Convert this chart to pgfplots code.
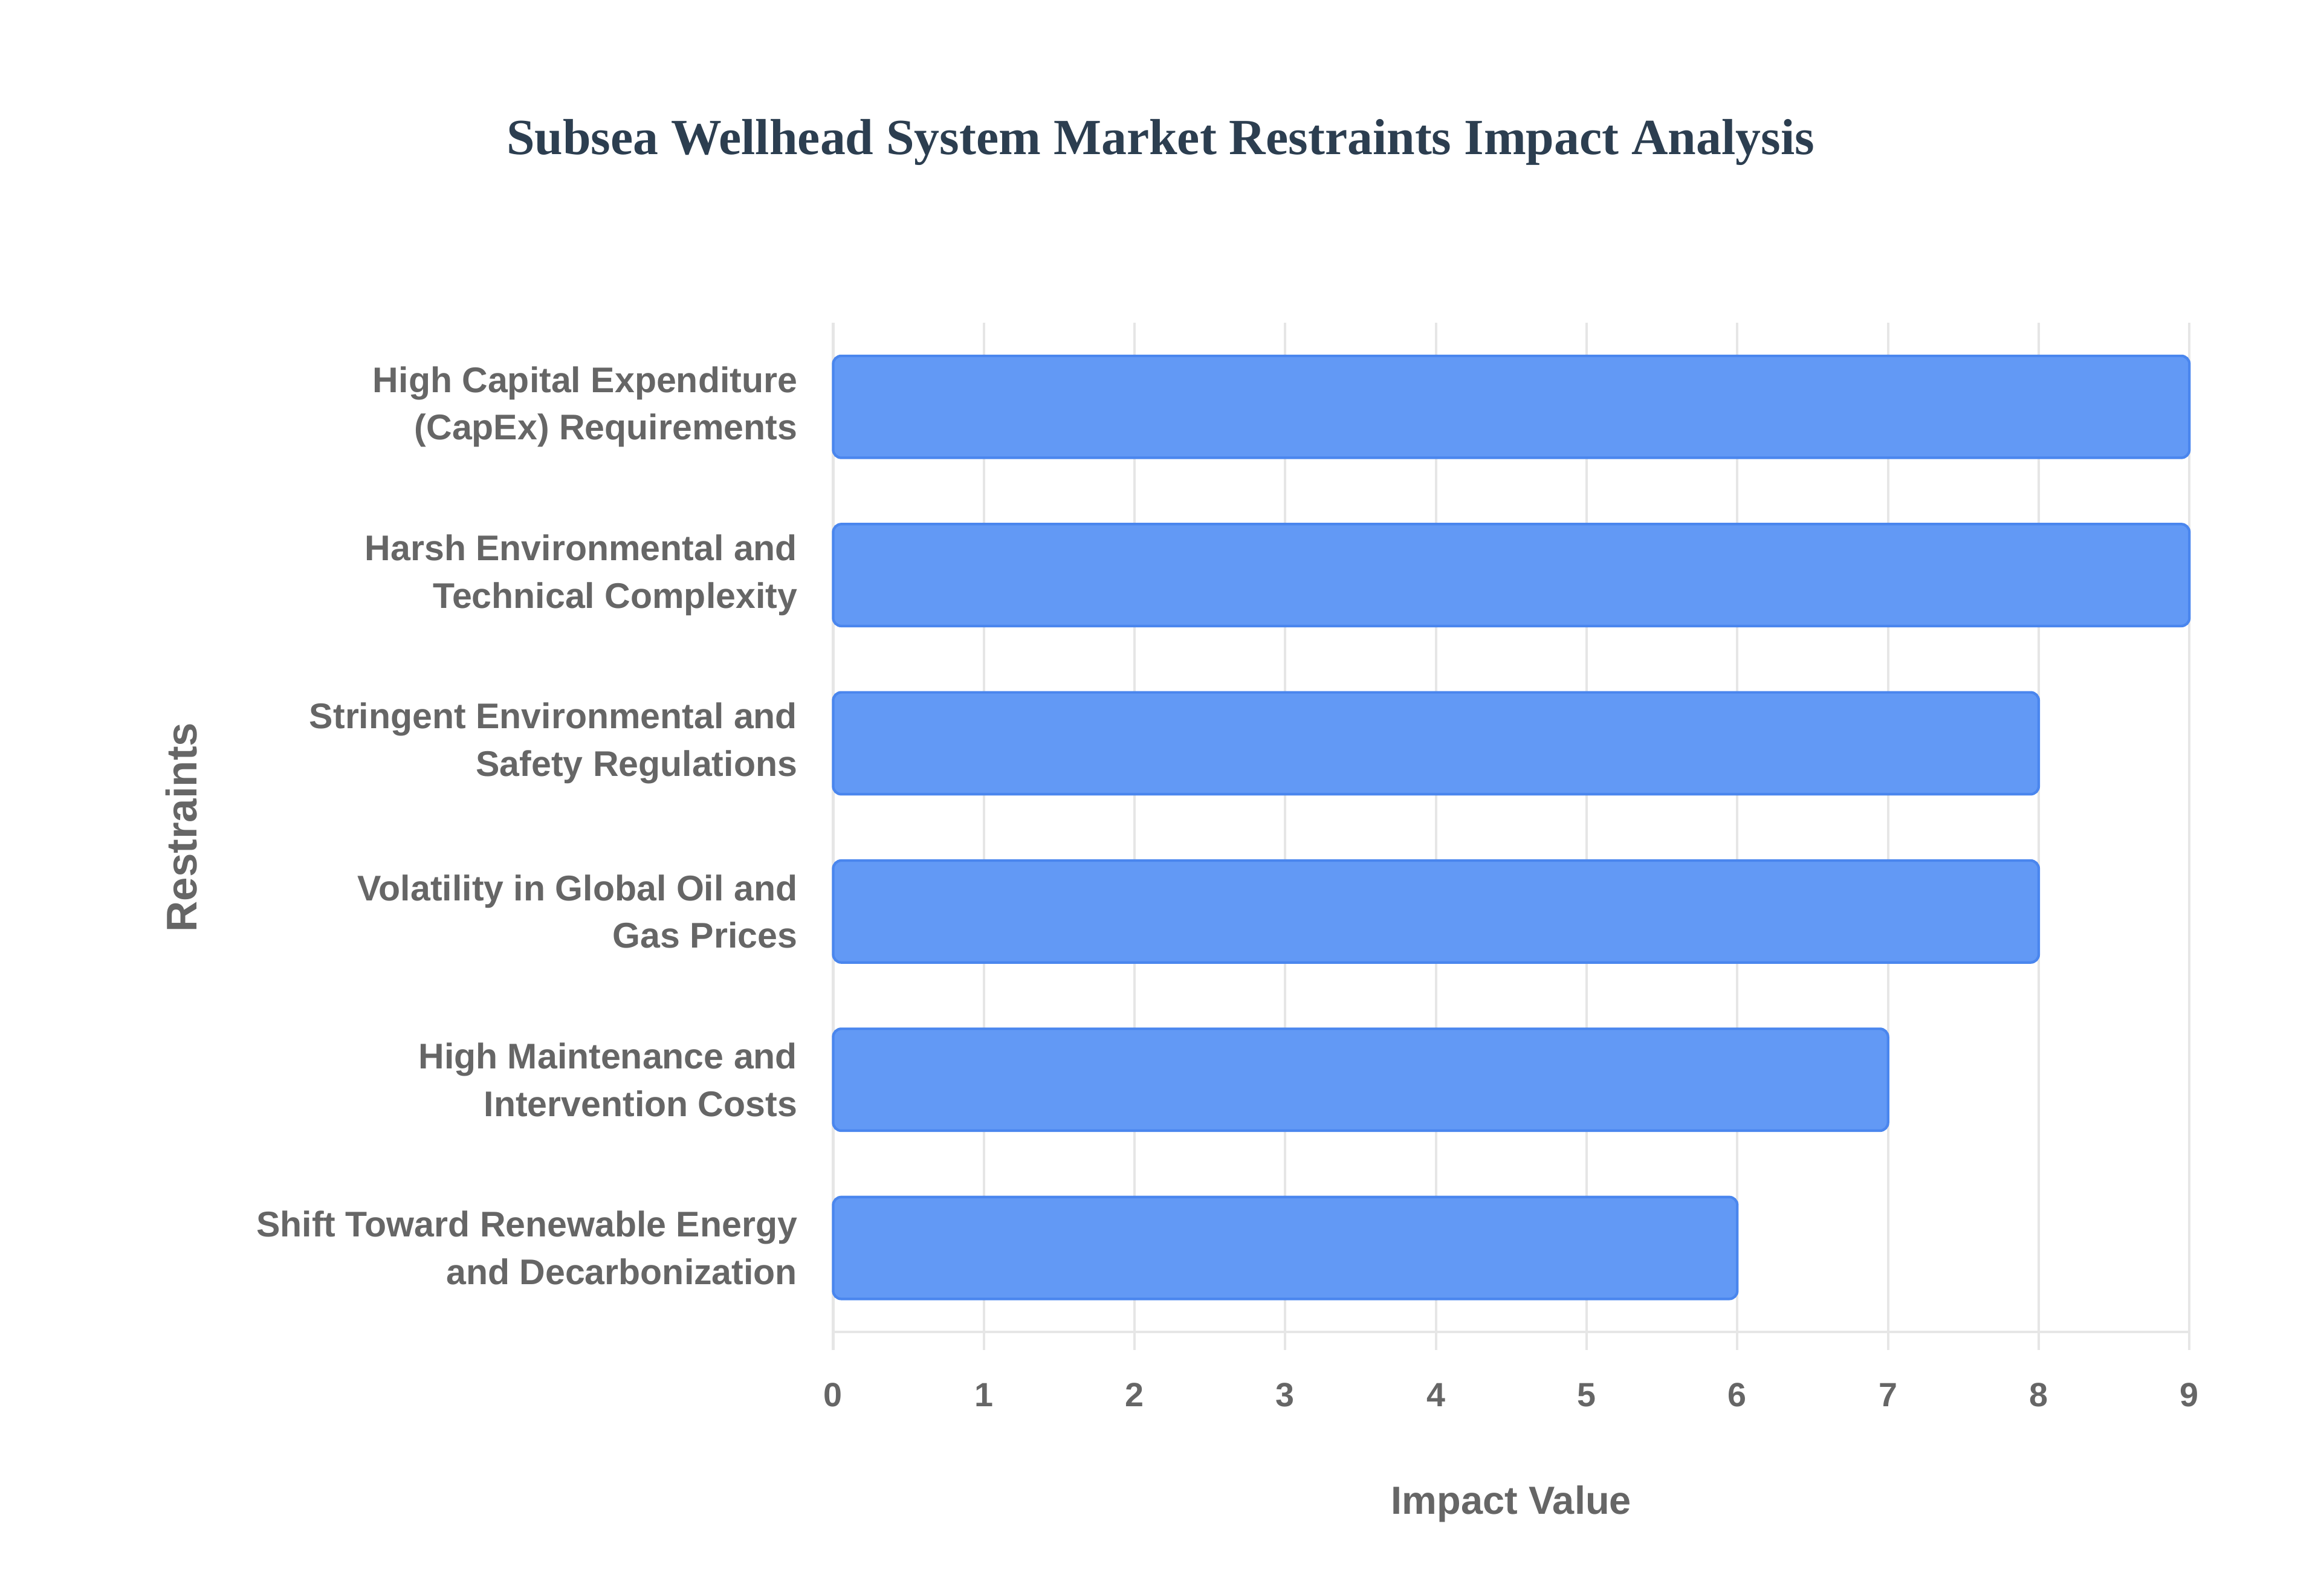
\documentclass[border=0pt]{standalone}
\usepackage{fontspec}
\setmainfont{Liberation Sans}
\newfontfamily\titlefont{Liberation Serif}
\usepackage{pgfplots}
\pgfplotsset{compat=1.18}
\definecolor{barfill}{HTML}{6299F5}
\definecolor{baredge}{HTML}{4A86EE}
\definecolor{txtgray}{HTML}{666666}
\definecolor{gridgray}{HTML}{E6E6E6}
\definecolor{titlecol}{HTML}{2C3E50}
\begin{document}
\begin{tikzpicture}
\path[use as bounding box] (0,0) rectangle (455.2pt,313.0pt);
\node[font=\titlefont\bfseries\fontsize{9.93}{11}\selectfont, text=titlecol] at (227.6pt,285.1pt) {Subsea Wellhead System Market Restraints Impact Analysis};
\begin{axis}[
  at={(163.4pt,51.7pt)}, anchor=south west,
  scale only axis, width=266pt, height=198pt,
  xbar, bar width=20pt,
  xmin=0, xmax=9, ymin=-0.5, ymax=5.5, y dir=reverse,
  xtick={0,1,2,3,4,5,6,7,8,9},
  ytick={0,1,2,3,4,5},
  yticklabels={{High Capital Expenditure\\(CapEx) Requirements},{Harsh Environmental and\\Technical Complexity},{Stringent Environmental and\\Safety Regulations},{Volatility in Global Oil and\\Gas Prices},{High Maintenance and\\Intervention Costs},{Shift Toward Renewable Energy\\and Decarbonization}},
  yticklabel style={align=right, font=\bfseries\fontsize{7.0}{9.3}\selectfont, text=txtgray, xshift=0pt},
  xticklabel style={font=\bfseries\fontsize{6.6}{8}\selectfont, text=txtgray, yshift=-3pt},
  /pgf/number format/assume math mode=true,
  axis x line*=bottom, axis y line*=left,
  axis line style={gridgray, line width=0.5pt},
  xmajorgrids, grid style={gridgray, line width=0.5pt},
  tick align=outside, major tick length=3.5pt,
  xtick style={gridgray, line width=0.5pt},
  ytick style={draw=none},
  xlabel={Impact Value}, ylabel={Restraints},
  xlabel style={font=\bfseries\fontsize{7.7}{9}\selectfont, text=txtgray, at={(axis description cs:0.5,0)}, anchor=center, yshift=-33.7pt},
  ylabel style={font=\bfseries\fontsize{8.4}{9}\selectfont, text=txtgray, at={(axis description cs:-0.4803,0.5)}, anchor=center},
  clip=false,
]
\addplot[fill=barfill, draw=baredge, line width=0.5pt, rounded corners=1.6pt] coordinates {(9,0) (9,1) (8,2) (8,3) (7,4) (6,5)};
\end{axis}
\end{tikzpicture}
\end{document}
